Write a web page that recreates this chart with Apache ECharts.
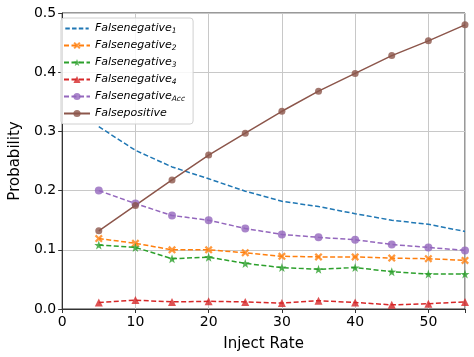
<!DOCTYPE html>
<html><head><meta charset="utf-8">
<script src="https://cdn.jsdelivr.net/npm/echarts@6/dist/echarts.min.js"></script>
<style>html,body{margin:0;padding:0;background:#fff}#c{width:474px;height:357px}</style>
</head><body><div id="c"></div>
<script>
const injectRate = [5,10,15,20,25,30,35,40,45,50,55];
const fn1 = [0.308,0.268,0.240,0.220,0.199,0.182,0.173,0.161,0.150,0.143,0.131];
const fn2 = [0.119,0.111,0.100,0.100,0.095,0.089,0.088,0.088,0.086,0.085,0.082];
const fn3 = [0.108,0.104,0.085,0.0875,0.077,0.070,0.067,0.070,0.063,0.059,0.059];
const fn4 = [0.011,0.015,0.012,0.013,0.012,0.010,0.014,0.011,0.007,0.009,0.012];
const fnAcc = [0.200,0.178,0.158,0.150,0.136,0.126,0.121,0.117,0.109,0.104,0.099];
const fp = [0.132,0.175,0.218,0.260,0.297,0.334,0.368,0.398,0.428,0.453,0.480];
const yTicks = [0,0.1,0.2,0.3,0.4,0.5];
const xTicks = [0,10,20,30,40,50];

const names = ['fn1','fn2','fn3','fn4','fnacc','fp'];
const labels = {
  fn1:'{i|Falsenegative}{s|1}', fn2:'{i|Falsenegative}{s|2}', fn3:'{i|Falsenegative}{s|3}',
  fn4:'{i|Falsenegative}{s|4}', fnacc:'{i|Falsenegative}{s|Acc}', fp:'{i|Falsepositive}'
};
const xPath = 'path://M2,0L5,3L8,0L10,2L7,5L10,8L8,10L5,7L2,10L0,8L3,5L0,2Z';
const starPath = 'path://M5,0L6.18,3.38L9.76,3.45L6.9,5.62L7.94,9.05L5,7L2.06,9.05L3.1,5.62L0.24,3.45L3.82,3.38Z';
const dashIcon = 'path://M0,4L5,4L5,6L0,6Z M7.5,4L12.5,4L12.5,6L7.5,6Z M15,4L20,4L20,6L15,6Z M22.5,4L26,4L26,6L22.5,6Z M0,0L0.01,0L0.01,0.01Z M0,10L0.01,10L0.01,9.99Z';

function pairs(v){ return injectRate.map((x,i)=>[x,v[i]]); }
function mk(name, data, color, symbol, size, dashed){
  return {
    name, type:'line', data:pairs(data),
    symbol: symbol || 'none', symbolSize: size, showSymbol: !!symbol,
    lineStyle:{color, width:1.5, type: dashed ? [5,2.5] : 'solid'},
    itemStyle:{color, opacity:0.8},
    emphasis:{disabled:true}, animation:false
  };
}
const chart = echarts.init(document.getElementById('c'));
chart.setOption({
  animation:false,
  textStyle:{fontFamily:'DejaVu Sans'},
  grid:{left:58, right:9, top:13, bottom:48, show:true, borderColor:'#333', borderWidth:1},
  legend:{
    orient:'vertical', left:61, top:18, itemWidth:26, itemHeight:9, itemGap:5,
    backgroundColor:'rgba(255,255,255,0.85)', borderColor:'#d0d0d0', borderWidth:1, borderRadius:3,
    padding:[5,8,5,2],
    data:names.map(n => n==='fn1' ? {name:n, icon:dashIcon, itemStyle:{color:'#1f77b4', opacity:1}} : {name:n}),
    formatter: n => labels[n],
    textStyle:{rich:{
      i:{fontStyle:'italic', fontSize:11, fontFamily:'DejaVu Sans', color:'#000'},
      s:{fontStyle:'italic', fontSize:7.5, fontFamily:'DejaVu Sans', color:'#000', verticalAlign:'bottom', padding:[5,0,0,0]}
    }}
  },
  xAxis:{
    type:'value', min:0, max:55, interval:10,
    name:'Inject Rate', nameLocation:'middle', nameGap:28,
    nameTextStyle:{fontSize:15, color:'#000', fontFamily:'DejaVu Sans'},
    axisLine:{lineStyle:{color:'#333'}}, axisTick:{show:true, length:4, lineStyle:{color:'#333'}},
    axisLabel:{fontSize:14, color:'#000', margin:6, formatter:v=> xTicks.includes(v)? String(v):''},
    splitLine:{show:true, lineStyle:{color:'#c8c8c8', width:1}}
  },
  yAxis:{
    type:'value', min:0, max:0.5, interval:0.1,
    name:'Probability', nameLocation:'middle', nameGap:38,
    nameTextStyle:{fontSize:15, color:'#000', fontFamily:'DejaVu Sans'},
    axisLine:{show:true, lineStyle:{color:'#333'}}, axisTick:{show:true, length:4, lineStyle:{color:'#333'}},
    axisLabel:{fontSize:14, color:'#000', margin:6, formatter:v=>{const t=yTicks.find(k=>Math.abs(k-v)<1e-9); return t===undefined?'':t.toFixed(1);}},
    splitLine:{show:true, lineStyle:{color:'#c8c8c8', width:1}}
  },
  series:[
    mk('fn1', fn1, '#1f77b4', null, 0, true),
    mk('fn2', fn2, '#ff7f0e', xPath, 8, true),
    mk('fn3', fn3, '#2ca02c', starPath, 9, true),
    mk('fn4', fn4, '#d62728', 'triangle', 8, true),
    mk('fnacc', fnAcc, '#9467bd', 'circle', 8, true),
    mk('fp', fp, '#8c564b', 'circle', 7, false)
  ]
});
</script></body></html>
